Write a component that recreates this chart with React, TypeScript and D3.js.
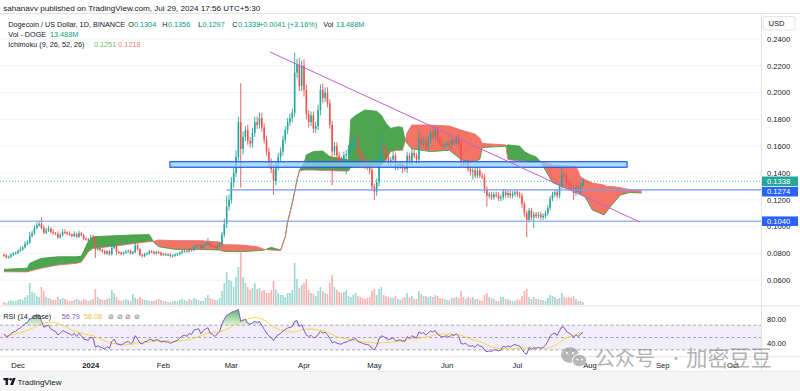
import React from 'react';
import * as d3 from 'd3';

// ---------------- DATA ----------------
const firstDate = '2023-11-25';
const firstOpen = 0.079;
// daily closes, 2023-11-25 .. 2024-07-29
const closes = [
  0.0785,0.0770,0.0775,0.0790,0.0800,0.0805,0.0820,0.0830,0.0845,0.0870,
  0.0880,0.0930,0.0950,0.0990,0.1010,0.1020,0.0990,0.0955,0.0970,0.0985,
  0.0960,0.0950,0.0945,0.0920,0.0935,0.0960,0.0955,0.0945,0.0940,0.0930,
  0.0945,0.0925,0.0950,0.0935,0.0910,0.0905,0.0900,0.0920,0.0915,0.0830,
  0.0840,0.0825,0.0815,0.0800,0.0815,0.0795,0.0840,0.0860,0.0810,0.0805,
  0.0795,0.0805,0.0815,0.0820,0.0800,0.0810,0.0860,0.0830,0.0790,0.0780,
  0.0795,0.0800,0.0815,0.0810,0.0800,0.0810,0.0805,0.0790,0.0795,0.0790,
  0.0790,0.0780,0.0785,0.0790,0.0795,0.0805,0.0815,0.0820,0.0815,0.0830,
  0.0825,0.0850,0.0855,0.0860,0.0840,0.0860,0.0870,0.0880,0.0855,0.0850,
  0.0840,0.0855,0.0870,0.0940,0.1020,0.1150,0.1200,0.1330,0.1400,0.1520,
  0.1780,0.1580,0.1670,0.1720,0.1640,0.1620,0.1700,0.1780,0.1760,0.1810,
  0.1740,0.1650,0.1560,0.1480,0.1430,0.1340,0.1450,0.1520,0.1560,0.1650,
  0.1720,0.1780,0.1810,0.1850,0.2150,0.2210,0.2050,0.2200,0.2020,0.1840,
  0.1780,0.1830,0.1730,0.1750,0.1870,0.2020,0.1960,0.2000,0.1920,0.1760,
  0.1560,0.1600,0.1530,0.1490,0.1480,0.1530,0.1540,0.1580,0.1600,0.1620,
  0.1650,0.1550,0.1520,0.1490,0.1460,0.1450,0.1420,0.1300,0.1260,0.1330,
  0.1500,0.1590,0.1570,0.1520,0.1480,0.1500,0.1530,0.1450,0.1460,0.1470,
  0.1440,0.1430,0.1530,0.1490,0.1550,0.1530,0.1500,0.1650,0.1620,0.1640,
  0.1590,0.1650,0.1700,0.1680,0.1720,0.1650,0.1620,0.1600,0.1610,0.1620,
  0.1600,0.1640,0.1630,0.1660,0.1620,0.1480,0.1470,0.1480,0.1430,0.1410,
  0.1420,0.1380,0.1420,0.1380,0.1370,0.1280,0.1230,0.1240,0.1220,0.1240,
  0.1235,0.1210,0.1220,0.1260,0.1235,0.1250,0.1230,0.1245,0.1255,0.1240,
  0.1230,0.1170,0.1100,0.1050,0.1120,0.1070,0.1090,0.1080,0.1090,0.1070,
  0.1080,0.1100,0.1140,0.1210,0.1240,0.1255,0.1230,0.1300,0.1390,0.1380,
  0.1330,0.1310,0.1290,0.1250,0.1290,0.1265,0.1304,0.1338,
];
// upper wick above the body, in thousandths of a dollar
const upperWicks = [
  1,1,1,1,1,1,1,2,1,2, 2,3,2,2,2,2,5,2,2,2, 1,2,1,2,2,2,2,1,2,1, 2,1,2,1,1,1,1,2,2,1,
  2,1,1,1,1,1,3,2,1,1, 1,1,1,1,1,1,1.8,1,1,1, 1,1,1,1,1,1,1,1,1,1, 1,1,1,1,1,1,1,1,1,1,
  1,1,1,1,1,1,1,3.5,1,1, 1,1,1,2,4,8,4,4,4,5, 4,29,4,3,4,3,4,4,4,4, 4,3,3,3,3,3,3,3,3,3,
  3,3,3,3,14.6,4,5,4,5,4, 3,3,3,3,4,4,5,4,4,3, 3,3,3,3,3,3,3,3,3,3, 3,3,3,3,2,2,2,3,2,3,
  4,11,3,3,2,2,3,2,2,2, 2,2,3,2,3,2,2,7,3,3, 3,3,2,3,3,3,2,2,2,2, 2,3,2,2,2,2,2,2,2,2,
  2,2,2,2,2,2,2,2,2,2, 2,2,2,2,2,2,2,2,2,2, 2,2,2,2,2,2,2,2,2,2, 2,2,2,2,2,2,2,2,5.5,2,
  2,2,2,2,2,2,2,1.8,
];
// lower wick below the body, in thousandths of a dollar
const lowerWicks = [
  1,1,1,1,1,1,1,1,1,1, 1,1,1,1,1,1,1,1,1,1, 1,1,1,1,1,1,1,1,1,1, 1,1,1,1,1,1,1,1,1,6.4,
  1,1,1,1,1,1,1,1,2,1, 1,1,1,1,1,1,1,1,1,1, 1,1,1,1,1,1,1,1,1,1, 1,1,1,1,1,1,1,1,1,1,
  1,1,1,1,1,1,1,1,1,1, 1,1,1,1,2,3,3,3,4,3, 3,29,4,3,3,3,3,3,3,3, 3,3,3,3,3,10.4,3,3,3,3,
  3,3,3,3,3,4,4,4,5,4, 4,3,3,3,3,4,4,3,3,3, 25,3,3,3,3,3,14,3,3,3, 3,3,3,3,3,3,3,3,6,3,
  3,3,3,3,3,3,3,3,3,3, 4,2,3,3,3,2,3,3,3,3, 2,3,3,3,3,3,2,2,2,2, 2,2,2,2,3,3,2,2,2,3,
  6,2,2,2,2,3,8,2,2,2, 2,2,2,2,2,2,2,2,2,2, 2,3,3,12.8,2,2,8,2,2,2, 2,2,2,2,2,2,2,2,2,2,
  2,2,2,5,2,2,2,0.7,
];
const volumes = [
  3,2,4,5,4,4,5,6,5,8, 10,22,13,12,9,8,18,14,8,7, 6,5,5,8,6,7,6,5,4,4, 5,6,5,4,6,5,4,5,6,16,
  8,6,5,5,6,7,15,12,8,5, 4,5,6,5,4,11,7,6,8,6, 5,5,4,4,4,5,6,5,4,4, 3,3,4,4,4,5,6,5,4,6,
  5,7,6,5,4,4,7,10,7,6, 5,5,7,14,22,33,25,24,18,28, 38,52,28,22,18,15,17,22,16,17, 14,15,12,12,15,24,16,12,10,10,
  8,12,12,15,42,26,17,20,22,26, 15,12,11,9,14,18,14,12,11,22, 30,18,15,13,12,13,15,9,8,10, 12,9,8,7,6,7,8,14,16,10,
  16,18,10,9,8,7,7,9,6,5, 7,8,12,8,9,6,6,14,11,9, 9,8,9,8,10,9,7,7,6,5, 5,7,7,8,7,14,8,6,8,7,
  8,6,6,5,4,10,12,8,7,6, 4,4,8,8,6,6,5,4,4,6, 5,9,14,16,8,6,8,6,6,5, 5,4,7,10,9,8,6,7,12,8,
  7,8,7,9,6,4,4,3,
];
// Wilder averages carried in from before the first visible bar (gain, loss)
const rsiSeed = [0.0008, 0.0006];

// Ichimoku cloud (leading spans, already displaced 26 bars)
const cloudDates = [
  '2023-11-25','2023-12-05','2023-12-06','2023-12-11','2023-12-18','2023-12-26','2023-12-28','2023-12-31',
  '2024-01-02','2024-01-09','2024-01-18','2024-01-26','2024-01-28','2024-01-30','2024-02-06','2024-02-17',
  '2024-02-25','2024-02-27','2024-03-05','2024-03-12','2024-03-15','2024-03-18','2024-03-22','2024-03-24',
  '2024-03-25','2024-03-27','2024-03-29','2024-03-30','2024-04-01','2024-04-02','2024-04-05','2024-04-09',
  '2024-04-12','2024-04-16','2024-04-20','2024-04-21','2024-04-23','2024-04-27','2024-05-02','2024-05-04',
  '2024-05-06','2024-05-08','2024-05-11','2024-05-13','2024-05-14','2024-05-15','2024-05-17','2024-05-25',
  '2024-06-02','2024-06-07','2024-06-11','2024-06-13','2024-06-15','2024-06-16','2024-06-21','2024-06-26',
  '2024-06-27','2024-07-02','2024-07-04','2024-07-06','2024-07-09','2024-07-11','2024-07-13','2024-07-16',
  '2024-07-21','2024-07-26','2024-07-28','2024-07-30','2024-08-02','2024-08-07','2024-08-08','2024-08-11',
  '2024-08-14','2024-08-18','2024-08-23',
];
const leadA = [
  0.0681,0.0690,0.0726,0.0763,0.0775,0.0775,0.0780,0.0890,
  0.0925,0.0930,0.0937,0.0940,0.0880,0.0850,0.0830,0.0830,
  0.0825,0.0815,0.0813,0.0820,0.0825,0.0845,0.0825,0.0925,
  0.1036,0.1180,0.1350,0.1420,0.1472,0.1534,0.1560,0.1564,
  0.1522,0.1510,0.1497,0.1800,0.1830,0.1870,0.1860,0.1830,
  0.1770,0.1733,0.1745,0.1740,0.1650,0.1620,0.1580,0.1560,
  0.1570,0.1500,0.1480,0.1490,0.1500,0.1590,0.1595,0.1600,
  0.1610,0.1600,0.1560,0.1540,0.1520,0.1484,0.1420,0.1330,
  0.1290,0.1270,0.1240,0.1220,0.1124,0.1087,0.1110,0.1176,
  0.1236,0.1255,0.1250,
];
const leadB = [
  0.0663,0.0662,0.0668,0.0690,0.0713,0.0726,0.0735,0.0813,
  0.0838,0.0850,0.0870,0.0888,0.0890,0.0900,0.0895,0.0895,
  0.0885,0.0865,0.0863,0.0850,0.0830,0.0825,0.0822,0.0920,
  0.1030,0.1170,0.1340,0.1415,0.1422,0.1422,0.1422,0.1418,
  0.1418,0.1415,0.1415,0.1445,0.1445,0.1450,0.1450,0.1460,
  0.1500,0.1560,0.1570,0.1570,0.1630,0.1700,0.1758,0.1758,
  0.1750,0.1720,0.1700,0.1690,0.1660,0.1620,0.1615,0.1610,
  0.1500,0.1490,0.1490,0.1485,0.1484,0.1484,0.1475,0.1460,
  0.1455,0.1450,0.1370,0.1350,0.1325,0.1310,0.1300,0.1298,
  0.1290,0.1275,0.1270,
];

const priceTicks = [0.06, 0.08, 0.10, 0.12, 0.14, 0.16, 0.18, 0.20, 0.22, 0.24];
const rsiTicks = [80, 40];
const rsiLevels = [70, 50, 30];
const monthTicks = ['2023-12-01','2024-01-01','2024-02-01','2024-03-01','2024-04-01','2024-05-01','2024-06-01','2024-07-01','2024-08-01','2024-09-01','2024-10-01'];
const monthLabels = ['Dec','2024','Feb','Mar','Apr','May','Jun','Jul','Aug','Sep','Oct'];

const trendDates = ['2024-03-17T12:00:00Z', '2024-08-22T07:00:00Z'];
const trendPrices = [0.2303, 0.1034];
const zoneDates = ['2024-02-03T19:00:00Z', '2024-08-16T19:00:00Z'];
const zonePrices = [0.1484, 0.1443];
const levelPrices = [0.1274, 0.1040];
const levelStarts = ['2024-02-28', '2023-11-20'];
const lastPrice = 0.1338;

// ---------------- CHART ----------------
const FF = "'Liberation Sans', Arial, sans-serif";
const UP = '#26a69a';
const DN = '#ef5350';
const parse = (s: string) => d3.isoParse(s.length === 10 ? s + 'T00:00:00Z' : s) as Date;

export default function App() {
  const W = 800, H = 391;
  const R = 761; // right edge of plot
  const mainTop = 14, mainBottom = 306, rsiTop = 307, rsiBottom = 356;
  const FS = 7.25;

  const x = d3.scaleUtc().domain([parse('2024-01-01'), parse('2024-10-01')]).range([90.7, 733]);
  const y = d3.scaleLinear().domain([0.06, 0.24]).range([280.2, 39]);
  const yVol = d3.scaleLinear().domain([0, 55]).range([305, 250]);
  const yRsi = d3.scaleLinear().domain([40, 80]).range([343.7, 319]);

  const start = parse(firstDate);
  const candles = closes.map((c, i) => {
    const open = i === 0 ? firstOpen : closes[i - 1];
    return {
      date: d3.utcDay.offset(start, i),
      open, close: c,
      high: Math.max(open, c) + upperWicks[i] / 1000,
      low: Math.min(open, c) - lowerWicks[i] / 1000,
      vol: volumes[i],
    };
  });

  // RSI(14) with Wilder smoothing, and its 14-period SMA
  const rsi: { date: Date; v: number }[] = [];
  let ag = rsiSeed[0], al = rsiSeed[1];
  candles.forEach((c, i) => {
    const ch = c.close - c.open;
    const g = Math.max(ch, 0), l = Math.max(-ch, 0);
    ag = (ag * 13 + g) / 14; al = (al * 13 + l) / 14;
    const v = al === 0 ? 100 : 100 - 100 / (1 + ag / al);
    rsi.push({ date: c.date, v });
  });
  const rsiMa = rsi.map((p, i) => {
    const win = rsi.slice(Math.max(0, i - 13), i + 1);
    return { date: p.date, v: d3.mean(win, (q) => q.v) as number };
  });
  const rsiLine = d3.line<{ date: Date; v: number }>().x((p) => x(p.date)).y((p) => yRsi(p.v));
  const obArea = d3.area<{ date: Date; v: number }>().x((p) => x(p.date)).y0(yRsi(70)).y1((p) => yRsi(Math.max(p.v, 70)));

  // cloud runs split at crossings
  type CP = { x: number; a: number; b: number };
  const pts: CP[] = cloudDates.map((s, i) => ({ x: x(parse(s)), a: leadA[i], b: leadB[i] }));
  const runs: { sign: number; pts: CP[] }[] = [];
  let cur: { sign: number; pts: CP[] } | null = null;
  for (let i = 0; i < pts.length; i++) {
    const p = pts[i];
    let s = Math.sign(p.a - p.b);
    if (s === 0) s = cur ? cur.sign : 1;
    if (!cur) { cur = { sign: s, pts: [p] }; runs.push(cur); continue; }
    if (s === cur.sign) { cur.pts.push(p); continue; }
    const q = pts[i - 1];
    const dq = q.a - q.b, dp = p.a - p.b;
    const t = dq === dp ? 0 : dq / (dq - dp);
    const c = { x: q.x + t * (p.x - q.x), a: q.a + t * (p.a - q.a), b: q.a + t * (p.a - q.a) };
    cur.pts.push(c);
    cur = { sign: s, pts: [c, p] };
    runs.push(cur);
  }
  const cloudArea = d3.area<CP>().x((p) => p.x).y0((p) => y(p.b)).y1((p) => y(p.a));
  const lineA = d3.line<CP>().x((p) => p.x).y((p) => y(p.a));
  const lineB = d3.line<CP>().x((p) => p.x).y((p) => y(p.b));

  const bw = 1.6;

  return (
    <svg width={W} height={H} style={{ position: 'absolute', left: 0, top: 0, background: '#fff' }} fontFamily={FF}>
      <defs>
        <clipPath id="main"><rect x={0} y={mainTop} width={R} height={mainBottom - mainTop} /></clipPath>
        <clipPath id="rsi"><rect x={0} y={rsiTop} width={R} height={rsiBottom - rsiTop} /></clipPath>
        <linearGradient id="ob" x1="0" y1="0" x2="0" y2="1">
          <stop offset="0" stopColor="#4caf50" stopOpacity={0.9} />
          <stop offset="1" stopColor="#4caf50" stopOpacity={0.15} />
        </linearGradient>
      </defs>
      <rect x={0} y={0} width={W} height={H} fill="#fff" />
      {/* header */}
      <text x={3.3} y={10.5} fontSize={8.1} fill="#131722">sahanavv published on TradingView.com, Jul 29, 2024 17:56 UTC+5:30</text>
      <line x1={0} x2={W} y1={13.5} y2={13.5} stroke="#e0e3eb" />

      {/* grid */}
      <g>
        {priceTicks.map((t) => (
          <line key={t} x1={0} x2={R} y1={y(t)} y2={y(t)} stroke="#f0f2f6" />
        ))}
      </g>

      <g clipPath="url(#main)">
        {/* volume */}
        {candles.map((c, i) => (
          <rect key={'v' + i} x={x(c.date) - bw / 2} width={bw} y={yVol(c.vol)} height={yVol(0) - yVol(c.vol)}
            fill={c.close >= c.open ? UP : DN} opacity={0.45} />
        ))}
        {/* cloud */}
        {runs.map((r, i) => (
          <path key={'c' + i} d={cloudArea(r.pts) || ''} fill={r.sign > 0 ? '#43a047' : '#f26b5d'} opacity={0.95} />
        ))}
        <path d={lineA(pts) || ''} fill="none" stroke="#43a047" strokeWidth={0.9} />
        <path d={lineB(pts) || ''} fill="none" stroke="#e57373" strokeWidth={0.9} />
        {/* candles */}
        {candles.map((c, i) => {
          const cx = x(c.date);
          const col = c.close >= c.open ? UP : DN;
          const top = y(Math.max(c.open, c.close));
          const bot = y(Math.min(c.open, c.close));
          return (
            <g key={'k' + i}>
              <line x1={cx} x2={cx} y1={y(c.high)} y2={y(c.low)} stroke={col} strokeWidth={0.9} />
              <rect x={cx - bw / 2} width={bw} y={top} height={Math.max(1, bot - top)} fill={col} />
            </g>
          );
        })}
        {/* drawings */}
        {levelPrices.map((p, i) => (
          <line key={'l' + i} x1={x(parse(levelStarts[i]))} x2={R} y1={y(p)} y2={y(p)} stroke="#7b9cf5" strokeOpacity={0.75} strokeWidth={1.6} />
        ))}
        <line x1={0} x2={R} y1={y(lastPrice)} y2={y(lastPrice)} stroke={UP} strokeWidth={0.8} strokeDasharray="1,2" />
        <rect x={x(parse(zoneDates[0]))} width={x(parse(zoneDates[1])) - x(parse(zoneDates[0]))}
          y={y(zonePrices[0])} height={y(zonePrices[1]) - y(zonePrices[0])}
          fill="#8fd3fb" fillOpacity={0.75} stroke="#1e56e8" strokeWidth={1.2} />
        <line x1={x(parse(trendDates[0]))} y1={y(trendPrices[0])} x2={x(parse(trendDates[1]))} y2={y(trendPrices[1])}
          stroke="#c25fd6" strokeWidth={1} />
      </g>

      {/* legend */}
      <g fontSize={FS}>
        <text x={8.3} y={27} fill="#131722">Dogecoin / US Dollar, 1D, BINANCE</text>
        <text x={128.3} y={27} fill="#131722">O</text><text x={134} y={27} fill="#089981">0.1304</text>
        <text x={162.3} y={27} fill="#131722">H</text><text x={168} y={27} fill="#089981">0.1356</text>
        <text x={198.3} y={27} fill="#131722">L</text><text x={202.5} y={27} fill="#089981">0.1297</text>
        <text x={232.3} y={27} fill="#131722">C</text><text x={238} y={27} fill="#089981">0.1338</text>
        <text x={259} y={27} fill="#089981">+0.0041 (+3.16%)</text>
        <text x={323.3} y={27} fill="#131722">Vol</text><text x={336} y={27} fill="#089981">13.488M</text>
        <text x={8.3} y={37} fill="#131722">Vol - DOGE</text><text x={50} y={37} fill="#089981">13.488M</text>
        <text x={8.3} y={47} fill="#131722">Ichimoku (9, 26, 52, 26)</text>
        <text x={94} y={47} fill="#66bb6a">0.1251</text>
        <text x={118.3} y={47} fill="#ef7f7a">0.1218</text>
      </g>

      {/* separators */}
      <line x1={0} x2={W} y1={mainBottom} y2={mainBottom} stroke="#e0e3eb" />
      <line x1={0} x2={W} y1={356.7} y2={356.7} stroke="#e0e3eb" />
      <line x1={0} x2={W} y1={371.7} y2={371.7} stroke="#e0e3eb" />
      <line x1={R + 0.5} x2={R + 0.5} y1={13.5} y2={371.7} stroke="#e0e3eb" />

      {/* RSI pane */}
      <rect x={0} y={yRsi(70)} width={R} height={yRsi(30) - yRsi(70)} fill="#7e57c2" fillOpacity={0.1} />
      {rsiLevels.map((l) => (
        <line key={l} x1={0} x2={R} y1={yRsi(l)} y2={yRsi(l)} stroke="#8e9199" strokeWidth={0.8} strokeDasharray="3,2.5" />
      ))}
      <g clipPath="url(#rsi)">
        <path d={obArea(rsi) || ''} fill="url(#ob)" />
        <path d={rsiLine(rsiMa) || ''} fill="none" stroke="#f2d84a" strokeWidth={1} />
        <path d={rsiLine(rsi) || ''} fill="none" stroke="#7e57c2" strokeWidth={1} />
      </g>
      <g fontSize={FS}>
        <text x={3.3} y={318.5} fill="#131722">RSI (14, close)</text>
        <text x={61.7} y={318.5} fill="#7e57c2">56.79</text>
        <text x={84} y={318.5} fill="#e3c33a">56.08</text>
        {[108, 116.5, 125, 133.5].map((px) => (
          <text key={px} x={px} y={318.5} fill="#6a6d78" fontSize={6.5}>⊘</text>
        ))}
      </g>

      {/* price axis */}
      <rect x={763} y={16.5} width={32} height={13.5} rx={2} fill="#fff" stroke="#e0e3eb" />
      <text x={768.5} y={26} fontSize={7.6} fill="#131722">USD</text>
      {priceTicks.map((t) => (
        <text key={t} x={767} y={y(t) + 2.7} fontSize={7.6} fill="#131722">{t.toFixed(4)}</text>
      ))}
      {[{ v: lastPrice, yy: y(lastPrice), c: '#26a69a' }, { v: levelPrices[0], yy: 191.7, c: '#2962ff' }, { v: levelPrices[1], yy: y(levelPrices[1]), c: '#2962ff' }].map((b, i) => (
        <g key={'b' + i}>
          <rect x={762} y={b.yy - 4.8} width={36} height={9.6} fill={b.c} />
          <text x={767} y={b.yy + 2.7} fontSize={7.6} fill="#fff">{b.v.toFixed(4)}</text>
        </g>
      ))}
      {rsiTicks.map((t) => (
        <text key={t} x={767} y={yRsi(t) + 2.7} fontSize={7.6} fill="#131722">{t.toFixed(2)}</text>
      ))}

      {/* time axis */}
      {monthTicks.map((m, i) => (
        <text key={m} x={x(parse(m))} y={367.5} fontSize={7.6} textAnchor="middle" fill="#131722"
          fontWeight={monthLabels[i] === '2024' ? 'bold' : 'normal'}>{monthLabels[i]}</text>
      ))}

      {/* footer */}
      <rect x={0} y={372.2} width={W} height={H - 372.2} fill="#f5f5f5" />
      <g fill="#131722">
        <rect x={3.5} y={378} width={5} height={2.2} />
        <rect x={5.6} y={378} width={2.3} height={7} />
        <circle cx={10.6} cy={379.3} r={1.3} />
        <path d="M12.8,378 L15.6,378 L13,385 L10.2,385 Z" />
      </g>
      <text x={17.5} y={385} fontSize={8} fontWeight={500} fill="#131722">TradingView</text>

      {/* watermark */}
      <g opacity={0.6}>
        <ellipse cx={570} cy={355} rx={9} ry={7.8} fill="#8a8a8a" />
        <ellipse cx={579.5} cy={360.5} rx={7.2} ry={6.2} fill="#8a8a8a" stroke="#fff" strokeWidth={1} />
        <circle cx={567} cy={353} r={1.1} fill="#fff" />
        <circle cx={573} cy={353} r={1.1} fill="#fff" />
        <circle cx={577.3} cy={359.5} r={0.9} fill="#fff" />
        <circle cx={581.8} cy={359.5} r={0.9} fill="#fff" />
        <text x={595} y={365.5} fontSize={20} fill="#808080" fontFamily="'Noto Sans CJK SC', sans-serif">公众号</text>
        <text x={669} y={363} fontSize={14} fill="#808080" fontFamily="'Noto Sans CJK SC', sans-serif">·</text>
        <text x={686} y={366} fontSize={21.5} fill="#808080" fontFamily="'Noto Sans CJK SC', sans-serif">加密豆豆</text>
      </g>
    </svg>
  );
}
